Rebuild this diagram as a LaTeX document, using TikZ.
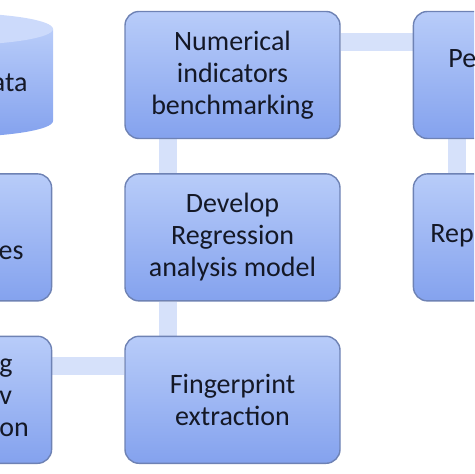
\documentclass[tikz,border=0pt]{standalone}
\usepackage{fontspec}
\setmainfont{Carlito}
\usepackage{tikz}
\usetikzlibrary{positioning,backgrounds}

\definecolor{boxtop}{HTML}{B8CCF9}
\definecolor{boxbot}{HTML}{84A2EE}
\definecolor{boxline}{HTML}{6E82B4}
\definecolor{linkcol}{HTML}{D6E1FA}
\definecolor{cyltop}{HTML}{CCDAFB}
\definecolor{txt}{HTML}{141826}

\begin{document}
\begin{tikzpicture}[
x=0.5pt,y=0.5pt,
node distance=17pt and 36pt,
box/.style={draw=boxline,line width=0.7pt,rounded corners=7pt,top color=boxtop,bottom color=boxbot,minimum width=107.5pt,minimum height=63.5pt,align=center,text=txt,font=\fontsize{14}{16}\selectfont},
lbl/.style={inner sep=0pt,text=txt,font=\fontsize{14}{16}\selectfont},
link/.style={draw=linkcol,line width=9pt}
]
\useasboundingbox (0,0) rectangle (474,-474);
\clip (0,0) rectangle (474,-474);

% database
\path[top color=boxtop,bottom color=boxbot] (-147,-29) -- (-147,-121)
  arc[start angle=180,end angle=360,x radius=100,y radius=16] -- (53,-29) -- cycle;
\path[fill=cyltop] (-47,-29) ellipse[x radius=100,y radius=16];
\node[lbl,anchor=east] (data) at (28,-83) {ata};

% middle column
\node[box] (num) at (232.5,-75) {Numerical\\indicators\\benchmarking};
\node[box,below=of num] (reg) {Develop\\Regression\\analysis model};
\node[box,below=of reg] (fing) {Fingerprint\\extraction};

% side boxes
\node[box,left=of reg] (lmid) {};
\node[box,left=of fing] (lbot) {};
\node[box,right=of num] (perf) {};
\node[box,below=of perf] (rep) {};

\node[lbl,anchor=east] (lmidtxt) at (24,-253) {es};
\node[lbl,anchor=west,align=left] (lbottxt) at (-1,-398) {g\\v\\on};
\node[lbl,anchor=west] (perftxt) at (448,-59) {Pe};
\node[lbl,anchor=west] (reptxt) at (430,-236) {Rep};

\begin{scope}[on background layer]
\draw[link] ([yshift=-15.75pt]num.north east) -- ([yshift=-15.75pt]perf.north west);
\draw[link] ([xshift=22pt]num.south west) -- ([xshift=22pt]reg.north west);
\draw[link] ([xshift=22pt]reg.south west) -- ([xshift=22pt]fing.north west);
\draw[link] ([xshift=22pt]perf.south west) -- ([xshift=22pt]rep.north west);
\draw[link] ([yshift=-15pt]fing.north west) -- ([yshift=-15pt]lbot.north east);
\end{scope}
\end{tikzpicture}
\end{document}
